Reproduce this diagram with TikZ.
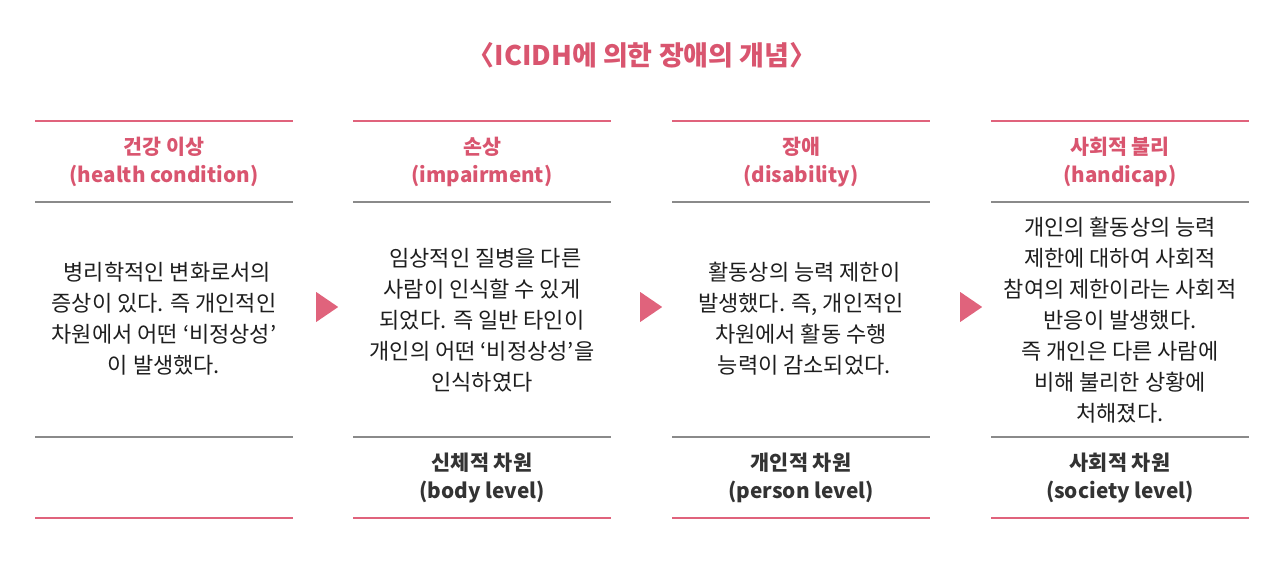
\documentclass[tikz,border=0pt]{standalone}
\usepackage{fontspec}
\setmainfont{Noto Sans CJK KR}
\usetikzlibrary{shapes.geometric}
\definecolor{pk}{HTML}{E0637C}
\definecolor{pkt}{HTML}{D9556F}
\definecolor{gl}{HTML}{8A8A8A}
\definecolor{bt}{HTML}{1E1E1E}
\definecolor{ft}{HTML}{333333}
\begin{document}
\begin{tikzpicture}[x=1pt,y=-1pt,
 pline/.style={draw=pk,line width=2pt},
 gline/.style={draw=gl,line width=1.3pt},
 ttl/.style={font=\fontsize{27}{30}\selectfont\bfseries,text=pkt,inner sep=0},
 head/.style={font=\fontsize{20.6}{28}\selectfont\bfseries,text=pkt,align=center,inner sep=0},
 body/.style={font=\fontsize{22}{31}\selectfont,text=bt,align=center,inner sep=0},
 foot/.style={font=\fontsize{20.8}{28}\selectfont\bfseries,text=ft,align=center,inner sep=0},
 tri/.style={isosceles triangle,isosceles triangle stretches,fill=pk,minimum height=22pt,minimum width=30pt,inner sep=0,anchor=west}]
\useasboundingbox (0,0) rectangle (1280,564);
\node[ttl] (title) at (642,55) {〈ICIDH에 의한 장애의 개념〉};
\foreach \x in {164,482,801,1120}{
  \draw[pline] (\x-129,121) -- (\x+129,121);
  \draw[gline] (\x-129,202) -- (\x+129,202);
  \draw[gline] (\x-129,437) -- (\x+129,437);
  \draw[pline] (\x-129,518) -- (\x+129,518);
}
\node[head] (h1) at (164,162) {건강 이상\\(health condition)};
\node[head] (h2) at (482,162) {손상\\(impairment)};
\node[head] (h3) at (801,162) {장애\\(disability)};
\node[head] (h4) at (1120,162) {사회적 불리\\(handicap)};
\node[body] (b1) at (164,319) {\hspace{0.3em}병리학적인 변화로서의\\증상이 있다. 즉 개인적인\\차원에서 어떤 ‘비정상성’\\이 발생했다.};
\node[body] (b2) at (482,320) {\hspace{0.3em}임상적인 질병을 다른\\사람이 인식할 수 있게\\되었다. 즉 일반 타인이\\개인의 어떤 ‘비정상성’을\\인식하였다};
\node[body] (b3) at (801,319) {\hspace{0.3em}활동상의 능력 제한이\\발생했다. 즉, 개인적인\\차원에서 활동 수행\\\hspace{0.3em}능력이 감소되었다.};
\node[body] (b4) at (1120,320) {개인의 활동상의 능력\\제한에 대하여 사회적\\참여의 제한이라는 사회적\\반응이 발생했다.\\즉 개인은 다른 사람에\\비해 불리한 상황에\\처해졌다.};
\node[foot] (f2) at (482,478) {신체적 차원\\(body level)};
\node[foot] (f3) at (801,478) {개인적 차원\\(person level)};
\node[foot] (f4) at (1120,478) {사회적 차원\\(society level)};
\node[tri] (a1) at (316,307) {};
\node[tri] (a2) at (640,307) {};
\node[tri] (a3) at (960,307) {};
\end{tikzpicture}
\end{document}
